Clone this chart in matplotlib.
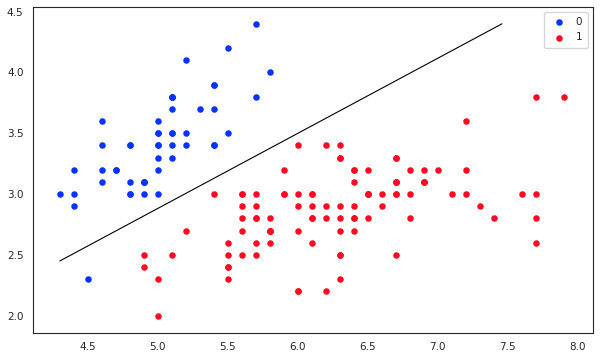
import numpy as np
import matplotlib
matplotlib.use("Agg")
import matplotlib.pyplot as plt
import seaborn as sns

# class 0 points (sepal length, sepal width)
x0 = [5.1, 4.9, 4.7, 4.6, 5.0, 5.4, 4.6, 5.0, 4.4, 4.9, 5.4, 4.8, 4.8, 4.3, 5.8,
      5.7, 5.4, 5.1, 5.7, 5.1, 5.4, 5.1, 4.6, 5.1, 4.8, 5.0, 5.0, 5.2, 5.2, 4.7,
      4.8, 5.4, 5.2, 5.5, 4.9, 5.0, 5.5, 4.9, 4.4, 5.1, 5.0, 4.5, 4.4, 5.0, 5.1,
      4.8, 5.1, 4.6, 5.3, 5.0]
y0 = [3.5, 3.0, 3.2, 3.1, 3.6, 3.9, 3.4, 3.4, 2.9, 3.1, 3.7, 3.4, 3.0, 3.0, 4.0,
      4.4, 3.9, 3.5, 3.8, 3.8, 3.4, 3.7, 3.6, 3.3, 3.4, 3.0, 3.4, 3.5, 3.4, 3.2,
      3.1, 3.4, 4.1, 4.2, 3.1, 3.2, 3.5, 3.1, 3.0, 3.4, 3.5, 2.3, 3.2, 3.5, 3.8,
      3.0, 3.8, 3.2, 3.7, 3.3]

# class 1 points
x1 = [7.0, 6.4, 6.9, 5.5, 6.5, 5.7, 6.3, 4.9, 6.6, 5.2, 5.0, 5.9, 6.0, 6.1, 5.6,
      6.7, 5.6, 5.8, 6.2, 5.6, 5.9, 6.1, 6.3, 6.1, 6.4, 6.6, 6.8, 6.7, 6.0, 5.7,
      5.5, 5.5, 5.8, 6.0, 5.4, 6.0, 6.7, 6.3, 5.6, 5.5, 5.5, 6.1, 5.8, 5.0, 5.6,
      5.7, 5.7, 6.2, 5.1, 5.7,
      6.3, 5.8, 7.1, 6.3, 6.5, 7.6, 4.9, 7.3, 6.7, 7.2, 6.5, 6.4, 6.8, 5.7, 5.8,
      6.4, 6.5, 7.7, 7.7, 6.0, 6.9, 5.6, 7.7, 6.3, 6.7, 7.2, 6.2, 6.1, 6.4, 7.2,
      7.4, 7.9, 6.4, 6.3, 6.1, 7.7, 6.3, 6.4, 6.0, 6.9, 6.7, 6.9, 5.8, 6.8, 6.7,
      6.7, 6.3, 6.5, 6.2, 5.9]
y1 = [3.2, 3.2, 3.1, 2.3, 2.8, 2.8, 3.3, 2.4, 2.9, 2.7, 2.0, 3.0, 2.2, 2.9, 2.9,
      3.1, 3.0, 2.7, 2.2, 2.5, 3.2, 2.8, 2.5, 2.8, 2.9, 3.0, 2.8, 3.0, 2.9, 2.6,
      2.4, 2.4, 2.7, 2.7, 3.0, 3.4, 3.1, 2.3, 3.0, 2.5, 2.6, 3.0, 2.6, 2.3, 2.7,
      3.0, 2.9, 2.9, 2.5, 2.8,
      3.3, 2.7, 3.0, 2.9, 3.0, 3.0, 2.5, 2.9, 2.5, 3.6, 3.2, 2.7, 3.0, 2.5, 2.8,
      3.2, 3.0, 3.8, 2.6, 2.2, 3.2, 2.8, 2.8, 2.7, 3.3, 3.2, 2.8, 3.0, 2.8, 3.0,
      2.8, 3.8, 2.8, 2.8, 2.6, 3.0, 3.4, 3.1, 3.0, 3.1, 3.1, 3.1, 2.7, 3.2, 3.3,
      3.0, 2.5, 3.0, 3.4, 3.0]

# decision boundary endpoints
line_x = [4.3, 7.46]
line_y = [2.45, 4.4]

sns.set_style("white")

fig = plt.figure(figsize=(6.05, 3.57), dpi=100)
ax = fig.add_axes([0.055, 0.068, 0.925, 0.913])

ax.scatter(x0, y0, color="#0a32ff", s=22, linewidths=0, label="0", zorder=3)
ax.scatter(x1, y1, color="#ff0a22", s=22, linewidths=0, label="1", zorder=3)
ax.plot(line_x, line_y, color="black", lw=0.8)

ax.set_xticks([4.5, 5.0, 5.5, 6.0, 6.5, 7.0, 7.5, 8.0])
ax.set_yticks([2.0, 2.5, 3.0, 3.5, 4.0, 4.5])
ax.tick_params(labelsize=7.5)
ax.set_xlim(4.11, 8.11)
ax.set_ylim(1.86, 4.54)
ax.legend(loc="upper right", fontsize=7.5, handletextpad=0.6, borderpad=0.5)

fig.savefig("out.png", dpi=100)
